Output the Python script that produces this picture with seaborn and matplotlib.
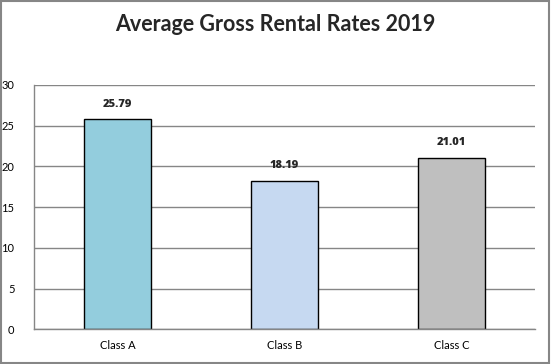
import matplotlib
matplotlib.use("Agg")
import matplotlib.pyplot as plt
import seaborn as sns
import pandas as pd
from matplotlib.patches import Rectangle

classes = ["Class A", "Class B", "Class C"]
rates = [25.79, 18.19, 21.01]
colors = ["#93CDDD", "#C6D9F1", "#BFBFBF"]
yticks = [0, 5, 10, 15, 20, 25, 30]

df = pd.DataFrame({"cls": classes, "rate": rates})

sns.set_style("white")
plt.rcParams["font.family"] = ["Lato", "DejaVu Sans"]

fig = plt.figure(figsize=(5.51, 3.64), dpi=100)
ax = fig.add_axes([0.0617, 0.0953, 0.9093, 0.6712])

sns.barplot(data=df, x="cls", y="rate", hue="cls", palette=colors, saturation=1,
            width=0.4, edgecolor="black", linewidth=1, legend=False, ax=ax)

ax.set_ylim(0, 30)
ax.set_yticks(yticks)
ax.set_xlim(-0.5, 2.5)
ax.yaxis.grid(True, color="#868686", linewidth=1)
ax.set_axisbelow(True)
ax.set_xlabel("")
ax.set_ylabel("")
ax.tick_params(axis="both", length=0, labelsize=8, colors="black")
ax.tick_params(axis="y", pad=14)
ax.tick_params(axis="x", pad=8)
for s in ["top", "right"]:
    ax.spines[s].set_visible(False)
for s in ["left", "bottom"]:
    ax.spines[s].set_color("#868686")
    ax.spines[s].set_linewidth(1)

for i, v in enumerate(rates):
    ax.annotate(f"{v:.2f}", (i, v), xytext=(0, 7), textcoords="offset points",
                ha="center", va="bottom", fontsize=8, fontweight="heavy",
                family=["Open Sans", "DejaVu Sans"])

fig.text(0.5, 0.933, "Average Gross Rental Rates 2019", ha="center", va="center",
         fontsize=15.5, fontweight="bold")

fig.patches.append(Rectangle((0.002, 0.004), 0.994, 0.992, transform=fig.transFigure,
                             fill=False, edgecolor="#868686", linewidth=1.5))

fig.savefig("out.png", dpi=100)
